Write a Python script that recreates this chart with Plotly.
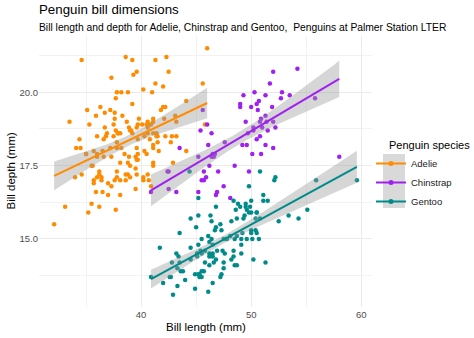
import numpy as np
import plotly.graph_objects as go

species = ["Adelie", "Chinstrap", "Gentoo"]
colors = {"Adelie": "#FF8C00", "Chinstrap": "#A020F0", "Gentoo": "#008B8B"}

adelie_len = [39.1,39.5,40.3,36.7,39.3,38.9,39.2,34.1,42.0,37.8,37.8,41.1,38.6,34.6,36.6,38.7,42.5,34.4,46.0,37.8,
              37.7,35.9,38.2,38.8,35.3,40.6,40.5,37.9,40.5,39.5,37.2,39.5,40.9,36.4,39.2,38.8,42.2,37.6,39.8,36.5,
              40.8,36.0,44.1,37.0,39.6,41.1,37.5,36.0,42.3,39.6,40.1,35.0,42.0,34.5,41.4,39.0,40.6,36.5,37.6,35.7,
              41.3,37.6,41.1,36.4,41.6,35.5,41.1,35.9,41.8,33.5,39.7,39.6,45.8,35.5,42.8,40.9,37.2,36.2,42.1,34.6,
              42.9,36.7,35.1,37.3,41.3,36.3,36.9,38.3,38.9,35.7,41.1,34.0,39.6,36.2,40.8,38.1,40.3,33.1,43.2,35.0,
              41.0,37.7,37.8,37.9,39.7,38.6,38.2,38.1,43.2,38.1,45.6,39.7,42.2,39.6,42.7,38.6,37.3,35.7,41.1,36.2,
              37.7,40.2,41.4,35.2,40.6,38.8,41.5,39.0,44.1,38.5,43.1,36.8,37.5,38.1,41.1,35.6,40.2,37.0,39.7,40.2,
              40.6,32.1,40.7,37.3,39.0,39.2,36.6,36.0,37.8,36.0,41.5]
adelie_dep = [18.7,17.4,18.0,19.3,20.6,17.8,19.6,18.1,20.2,17.1,17.3,17.6,21.2,21.1,17.8,19.0,20.7,18.4,21.5,18.3,
              18.7,19.2,18.1,17.2,18.9,18.6,17.9,18.6,18.9,16.7,18.1,17.8,18.9,17.0,21.1,20.0,18.5,19.3,19.1,18.0,
              18.4,18.5,19.7,16.9,18.8,19.0,18.9,17.9,21.2,17.7,18.9,17.9,19.5,18.1,18.6,17.5,18.8,16.6,19.1,16.9,
              21.1,17.0,18.2,17.1,18.0,16.2,19.1,16.6,19.4,19.0,18.4,17.2,18.9,17.5,18.5,16.8,19.4,16.1,19.1,17.2,
              17.6,18.8,19.4,17.8,20.3,19.5,18.6,19.2,18.8,18.0,18.1,17.1,18.1,17.3,18.9,18.6,18.5,16.1,18.5,17.9,
              20.0,16.0,20.0,18.6,18.9,17.2,20.0,17.0,19.0,16.5,20.3,17.7,19.5,20.7,18.3,17.0,20.5,17.0,18.6,17.2,
              19.8,17.0,18.5,15.9,19.0,17.6,18.3,17.1,18.0,17.9,19.2,18.5,18.5,17.6,17.5,17.5,20.1,16.5,17.9,17.1,
              17.2,15.5,17.0,16.8,18.7,18.6,18.4,17.8,18.1,17.1,18.5]

chinstrap_len = [46.5,50.0,51.3,45.4,52.7,45.2,46.1,51.3,46.0,51.3,46.6,51.7,47.0,52.0,45.9,50.5,50.3,58.0,46.4,49.2,
                 42.4,48.5,43.2,50.6,46.7,52.0,50.5,49.5,46.4,52.8,40.9,54.2,42.5,51.0,49.7,47.5,47.6,52.0,46.9,53.5,
                 49.0,46.2,50.9,45.5,50.9,50.8,50.1,49.0,51.5,49.8,48.1,51.4,45.7,50.7,42.5,52.2,45.2,49.3,50.2,45.6,
                 51.9,46.8,45.7,55.8,43.5,49.6,50.8,50.2]
chinstrap_dep = [17.9,19.5,19.2,18.7,19.8,17.8,18.2,18.2,18.9,19.9,17.8,20.3,17.3,18.1,17.1,19.6,20.0,17.8,18.6,18.2,
                 17.3,17.5,16.6,19.4,17.9,19.0,18.4,19.0,17.8,20.0,16.6,20.8,16.7,18.8,18.6,16.8,18.3,20.7,16.6,19.9,
                 19.5,17.5,19.1,17.0,17.9,18.5,17.9,19.6,18.7,17.3,16.4,19.0,17.3,19.7,17.3,18.8,16.6,19.9,18.8,19.4,
                 19.5,16.5,17.0,19.8,18.1,18.2,19.0,18.7]

gentoo_len = [46.1,50.0,48.7,50.0,47.6,46.5,45.4,46.7,43.3,46.8,40.9,49.0,45.5,48.4,45.8,49.3,42.0,49.2,46.2,48.7,
              50.2,45.1,46.5,46.3,42.9,46.1,44.5,47.8,48.2,50.0,47.3,42.8,45.1,59.6,49.1,48.4,42.6,44.4,44.0,48.7,
              42.7,49.6,45.3,49.6,50.5,43.6,45.5,50.5,44.9,45.2,46.6,48.5,45.1,50.1,46.5,45.0,43.8,45.5,43.2,50.4,
              45.3,46.2,45.7,54.3,45.8,49.8,46.2,49.5,43.5,50.7,47.7,46.4,48.2,46.5,46.4,48.6,47.5,51.1,45.2,45.2,
              49.1,52.5,47.4,50.0,44.9,50.8,43.4,51.3,47.5,52.1,47.5,52.2,45.5,49.5,44.5,50.8,49.4,46.9,48.4,51.1,
              48.5,55.9,47.2,49.1,47.3,46.8,41.7,53.4,43.3,48.1,50.5,49.8,43.5,51.5,46.2,55.1,44.5,48.8,47.2,46.8,
              50.4,45.2,49.9]
gentoo_dep = [13.2,16.3,14.1,15.2,14.5,13.5,14.6,15.3,13.4,15.4,13.7,16.1,13.7,14.6,14.6,15.7,13.5,15.2,14.5,15.1,
              14.3,14.5,14.5,15.8,13.1,15.1,14.3,15.0,14.3,15.3,15.3,14.2,14.5,17.0,14.8,16.3,13.7,17.3,13.6,15.7,
              13.7,16.0,13.7,15.0,15.9,13.9,13.9,15.9,13.3,15.8,14.2,14.1,14.4,15.0,14.4,15.4,13.9,15.0,14.5,15.3,
              13.8,14.9,13.9,15.7,14.2,16.8,14.4,16.2,14.2,15.0,15.0,15.6,15.6,14.8,15.0,16.0,14.2,16.3,13.8,16.4,
              14.5,15.6,14.6,15.9,13.8,17.3,14.4,14.2,14.0,17.0,15.0,17.1,14.5,16.1,14.7,15.7,15.8,14.6,14.4,16.5,
              15.0,17.0,15.5,15.0,13.8,16.1,14.7,15.8,14.0,15.1,15.2,15.9,15.2,16.3,14.1,16.0,15.7,16.2,13.7,14.3,
              15.7,14.8,16.1]

data = {"Adelie": (adelie_len, adelie_dep),
        "Chinstrap": (chinstrap_len, chinstrap_dep),
        "Gentoo": (gentoo_len, gentoo_dep)}

x_ticks = [40, 50, 60]
y_ticks = [15.0, 17.5, 20.0]
y_ticklabels = ["15.0", "17.5", "20.0"]


def t_quantile(df, z=1.959964):
    return (z + (z**3 + z) / (4 * df) + (5 * z**5 + 16 * z**3 + 3 * z) / (96 * df**2)
            + (3 * z**7 + 19 * z**5 + 17 * z**3 - 15 * z) / (384 * df**3))


fig = go.Figure()

for sp in species:
    x, y = data[sp]
    fig.add_trace(go.Scatter(x=x, y=y, mode="markers", showlegend=False,
                             marker=dict(color=colors[sp], size=4.5, line=dict(width=0))))

for sp in species:
    x, y = np.array(data[sp][0]), np.array(data[sp][1])
    n = len(x)
    b, a = np.polyfit(x, y, 1)
    resid = y - (a + b * x)
    s = np.sqrt(np.sum(resid**2) / (n - 2))
    xbar = x.mean()
    sxx = np.sum((x - xbar) ** 2)
    xs = np.linspace(x.min(), x.max(), 80)
    fit = a + b * xs
    se = s * np.sqrt(1 / n + (xs - xbar) ** 2 / sxx)
    t = t_quantile(n - 2)
    lo, hi = fit - t * se, fit + t * se
    fig.add_trace(go.Scatter(x=np.concatenate([xs, xs[::-1]]), y=np.concatenate([hi, lo[::-1]]),
                             fill="toself", fillcolor="rgba(153,153,153,0.4)", line=dict(width=0),
                             mode="lines", showlegend=False, hoverinfo="skip"))
    fig.add_trace(go.Scatter(x=xs, y=fit, mode="lines", showlegend=False,
                             line=dict(color=colors[sp], width=2)))

for sp in species:
    fig.add_trace(go.Scatter(x=[None], y=[None], mode="lines+markers", name=sp,
                             line=dict(color=colors[sp], width=2),
                             marker=dict(color=colors[sp], size=5)))

# plot area in pixels: x 39..372, y 36..307
L, R, T, B = 39, 372, 36, 307
W, H = R - L, B - T


def px(xp):
    return (xp - L) / W


def py(yp):
    return (B - yp) / H


grid = "#EBEBEB"
fig.update_layout(
    width=474, height=338,
    margin=dict(l=L, r=474 - R, t=T, b=338 - B, autoexpand=False),
    paper_bgcolor="white", plot_bgcolor="white",
    font=dict(family="Liberation Sans, Arial, sans-serif", color="#1A1A1A", size=11),
    showlegend=True,
    legend=dict(x=px(371), xanchor="left", y=py(149), yanchor="top", bgcolor="rgba(0,0,0,0)",
                font=dict(size=9.5, color="#1A1A1A"), itemwidth=30, tracegroupgap=0),
    xaxis=dict(range=[30.725, 60.975], tickvals=x_ticks, showline=False, zeroline=False, automargin=False,
               gridcolor=grid, gridwidth=1, ticks="", tickfont=dict(size=9.5, color="#4D4D4D"),
               minor=dict(tickvals=[35, 45, 55], showgrid=True, gridcolor="#F2F2F2", gridwidth=0.6)),
    yaxis=dict(range=[12.68, 21.92], tickvals=y_ticks, ticktext=y_ticklabels, showline=False,
               zeroline=False, automargin=False, gridcolor=grid, gridwidth=1, ticks="",
               tickfont=dict(size=9.5, color="#4D4D4D"),
               minor=dict(tickvals=[13.75, 16.25, 18.75, 21.25], showgrid=True, gridcolor="#F2F2F2",
                          gridwidth=0.6)),
    shapes=[dict(type="rect", xref="paper", yref="paper", x0=px(383), x1=px(405), y0=py(208), y1=py(154),
                 fillcolor="#D9D9D9", line=dict(width=0), layer="below")],
    annotations=[
        dict(text="Penguin bill dimensions", xref="paper", yref="paper", x=px(37), y=py(10),
             xanchor="left", yanchor="middle", showarrow=False, font=dict(size=13.3, color="black")),
        dict(text="Bill length and depth for Adelie, Chinstrap and Gentoo,  Penguins at Palmer Station LTER",
             xref="paper", yref="paper", x=px(37), y=py(27), xanchor="left", yanchor="middle",
             showarrow=False, font=dict(size=10.3, color="black")),
        dict(text="Bill length (mm)", xref="paper", yref="paper", x=0.5, y=py(327),
             xanchor="center", yanchor="middle", showarrow=False, font=dict(size=11.5, color="black")),
        dict(text="Bill depth (mm)", xref="paper", yref="paper", x=px(10), y=0.5, textangle=-90,
             xanchor="center", yanchor="middle", showarrow=False, font=dict(size=11.5, color="black")),
        dict(text="Penguin species", xref="paper", yref="paper", x=px(387), y=py(145),
             xanchor="left", yanchor="middle", showarrow=False, font=dict(size=11, color="black")),
    ],
)

fig.write_html("out.html")
